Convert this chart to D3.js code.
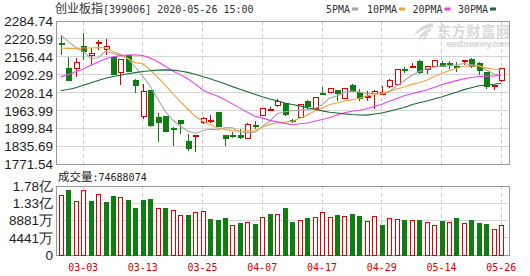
<!DOCTYPE html>
<html>
<head>
<meta charset="utf-8">
<script src="https://cdn.jsdelivr.net/npm/d3@7"></script>
<style>
  html, body { margin: 0; padding: 0; background: #fff; }
  svg { display: block; }
</style>
</head>
<body>
<div id="chart"></div>
<script>
// ChiNext (创业板指) daily k-line, 2020-02-27 .. 2020-05-26

const dates = ['02-27','02-28','03-02','03-03','03-04','03-05','03-06','03-09','03-10','03-11',
  '03-12','03-13','03-16','03-17','03-18','03-19','03-20','03-23','03-24','03-25',
  '03-26','03-27','03-30','03-31','04-01','04-02','04-03','04-07','04-08','04-09',
  '04-10','04-13','04-14','04-15','04-16','04-17','04-20','04-21','04-22','04-23',
  '04-24','04-27','04-28','04-29','04-30','05-06','05-07','05-08','05-11','05-12',
  '05-13','05-14','05-15','05-18','05-19','05-20','05-21','05-22','05-25','05-26'];

const open = [2204.4, 2113.4, 2113.4, 2193.7, 2163.0, 2206.8, 2181.9, 2155.9, 2099.2, 2160.6,
  2073.2, 1943.2, 2036.5, 1939.6, 1942.0, 1900.6, 1927.8, 1854.5, 1875.5, 1921.9,
  1929.5, 1957.3, 1877.0, 1875.2, 1875.8, 1866.3, 1911.5, 1945.5, 1968.5, 1983.3,
  1989.3, 1930.5, 1939.6, 1995.2, 1971.5, 2026.5, 2030.6, 2036.5, 2008.2, 2054.3,
  2028.3, 2015.5, 2025.9, 2021.2, 2049.5, 2057.8, 2112.0, 2121.5, 2138.2, 2111.0,
  2122.8, 2132.3, 2132.0, 2121.5, 2143.5, 2146.5, 2131.1, 2099.2, 2051.5, 2073.2];

const close = [2203.5, 2073.2, 2134.6, 2176.0, 2170.1, 2208.0, 2193.7, 2093.3, 2148.8, 2105.1,
  2055.4, 2031.8, 1912.4, 1920.7, 1888.8, 1899.5, 1919.5, 1827.3, 1877.0, 1937.2,
  1930.2, 1907.7, 1865.1, 1874.0, 1867.5, 1916.0, 1910.0, 1972.7, 1969.5, 1996.3,
  1951.4, 1929.0, 1984.5, 1978.6, 2010.5, 2025.9, 2042.4, 2025.9, 2042.4, 2034.2,
  2008.2, 2016.5, 2031.8, 2030.6, 2073.2, 2111.0, 2110.0, 2122.8, 2101.5, 2122.8,
  2144.1, 2122.8, 2131.0, 2120.3, 2144.3, 2122.8, 2108.6, 2051.9, 2052.5, 2113.4];

const high = [2235.1, 2155.9, 2152.4, 2241.0, 2187.8, 2217.4, 2220.9, 2157.0, 2149.5, 2162.0,
  2077.9, 2057.8, 2037.5, 1957.3, 1943.0, 1904.1, 1930.2, 1880.5, 1878.0, 1942.0,
  1949.1, 1958.0, 1877.5, 1888.8, 1898.2, 1919.5, 1927.8, 1973.5, 1977.4, 2004.6,
  1990.0, 1934.0, 1985.5, 2002.3, 2011.5, 2048.4, 2043.0, 2037.0, 2043.0, 2057.8,
  2040.1, 2034.2, 2037.7, 2051.9, 2077.9, 2114.5, 2119.3, 2134.6, 2144.1, 2123.5,
  2145.0, 2140.5, 2140.5, 2137.0, 2144.5, 2152.4, 2137.0, 2101.5, 2053.0, 2116.9];

const low = [2164.2, 2069.6, 2085.0, 2144.1, 2128.7, 2181.9, 2164.2, 2092.0, 2055.4, 2104.0,
  2028.3, 1933.7, 1904.1, 1851.0, 1887.0, 1839.1, 1880.5, 1821.4, 1817.9, 1916.0,
  1918.3, 1907.0, 1836.8, 1865.1, 1862.8, 1862.8, 1898.2, 1944.5, 1962.1, 1978.6,
  1945.5, 1920.0, 1938.5, 1971.5, 1970.5, 2021.2, 2025.9, 1998.7, 2007.0, 2031.8,
  1998.7, 1998.7, 1969.2, 2018.8, 2046.0, 2055.4, 2099.2, 2116.9, 2096.8, 2096.8,
  2122.0, 2120.5, 2114.5, 2101.5, 2128.7, 2116.9, 2093.3, 2040.1, 2037.7, 2066.1];

// close of the session before 02-27 (sets the colour of the first volume bar)
const prevClose = 2186.0;

const volume = [152800000, 164900000, 136600000, 164900000, 136600000, 154600000, 134000000, 149500000, 146900000, 140000000,
  118500000, 140000000, 142500000, 118500000, 118500000, 113400000, 100500000, 101300000, 108200000, 110800000,
  90200000, 87600000, 92800000, 74700000, 80700000, 82500000, 78100000, 95400000, 103900000, 103900000,
  119300000, 83200000, 87600000, 92800000, 95400000, 108200000, 95400000, 101300000, 97900000, 103900000,
  97900000, 85800000, 97900000, 75500000, 92800000, 90200000, 87600000, 87600000, 87600000, 83200000,
  75500000, 85800000, 83200000, 92800000, 80700000, 87600000, 80700000, 78100000, 64400000, 74688074];

const ma5 = [2235, 2212, 2190, 2176, 2151.5, 2152.4, 2176.5, 2168.2, 2162.8, 2149.8,
  2119.3, 2086.9, 2050.7, 2005.1, 1961.8, 1930.6, 1908.2, 1891.2, 1882.4, 1892.1,
  1898.2, 1895.9, 1903.4, 1902.8, 1888.9, 1886.1, 1886.5, 1908.0, 1927.1, 1952.9,
  1960.0, 1963.8, 1966.1, 1968.0, 1970.8, 1985.7, 2008.4, 2016.7, 2029.4, 2034.2,
  2030.6, 2025.4, 2026.6, 2024.3, 2032.1, 2052.6, 2071.3, 2089.5, 2103.7, 2113.6,
  2120.2, 2122.8, 2124.4, 2128.2, 2132.5, 2128.2, 2125.4, 2109.6, 2096.0, 2089.8];

const ma10 = [2188, 2187, 2187, 2188, 2188, 2190, 2189, 2175, 2166, 2150.6,
  2135.8, 2131.7, 2109.5, 2083.9, 2055.8, 2025.0, 1997.5, 1970.9, 1943.8, 1927.0,
  1914.4, 1902.0, 1897.3, 1892.6, 1890.5, 1892.2, 1891.2, 1905.7, 1915.0, 1920.9,
  1923.0, 1925.2, 1937.1, 1947.6, 1961.9, 1972.8, 1986.1, 1991.4, 1998.7, 2002.5,
  2008.2, 2016.9, 2021.6, 2026.8, 2033.1, 2041.6, 2048.4, 2058.1, 2064.0, 2072.8,
  2086.4, 2097.1, 2107.0, 2116.0, 2123.1, 2124.2, 2124.1, 2117.0, 2112.1, 2111.2];

const ma20 = [2085, 2093, 2103, 2113, 2126, 2138, 2150, 2157, 2161, 2163,
  2164, 2161, 2152, 2139, 2123, 2106, 2093, 2078, 2060, 2038.8,
  2025.1, 2016.9, 2003.4, 1988.3, 1973.2, 1958.6, 1944.4, 1938.3, 1929.4, 1923.9,
  1918.7, 1913.6, 1917.2, 1920.1, 1926.2, 1932.5, 1938.6, 1948.6, 1956.8, 1961.7,
  1965.6, 1971.0, 1979.4, 1987.2, 1997.5, 2007.2, 2017.2, 2024.7, 2031.3, 2037.7,
  2047.3, 2057.0, 2064.3, 2071.4, 2078.1, 2082.9, 2086.2, 2087.5, 2088.0, 2092.0];

const ma30 = [2036, 2040, 2046, 2055, 2063, 2072, 2080, 2086, 2091, 2096,
  2100, 2104, 2107, 2109, 2110, 2109, 2106, 2101, 2094, 2086,
  2078, 2069, 2060, 2050, 2041, 2032, 2023, 2014, 2006, 1999.5,
  1991.1, 1986.3, 1981.3, 1974.7, 1969.4, 1963.3, 1958.3, 1956.0, 1952.5, 1950.1,
  1948.5, 1948.0, 1952.0, 1955.7, 1961.8, 1968.9, 1975.2, 1985.1, 1992.6, 1998.7,
  2005.9, 2013.0, 2021.9, 2030.1, 2039.3, 2046.2, 2052.9, 2055.5, 2058.3, 2062.2];

const priceTicks = [2284.74, 2220.59, 2156.44, 2092.29, 2028.14, 1963.99, 1899.84, 1835.69, 1771.54];
const volTicks = [0, 44410000, 88810000, 133230000, 177640000];
const volTickLabels = ['0', '4441万', '8881万', '1.33亿', '1.78亿'];
const dateTicks = ['03-03', '03-13', '03-25', '04-07', '04-17', '04-29', '05-14', '05-26'];

const maNames = ['5PMA', '10PMA', '20PMA', '30PMA'];
const maColors = ['#a6a6a6', '#f2a33a', '#e846e8', '#1b6b3a'];
const maSeries = [ma5, ma10, ma20, ma30];

const W = 530, H = 276;
const left = 56, right = 509.5;
const pTop = 21, pBottom = 164.5;
const vTop = 186, vBottom = 255;
const red = '#e10000', green = '#0f7d0f', gridCol = '#d6d6d6', frameCol = '#9a9a9a';
const latin = "'DejaVu Sans Mono', monospace";
const cjk = "'Noto Sans CJK SC', sans-serif";

const svg = d3.select('#chart').append('svg')
  .attr('width', W)
  .attr('height', H);

svg.append('rect').attr('width', W).attr('height', H).attr('fill', '#fff');

const x = d3.scaleBand().domain(dates).range([57, 505]);
const cx = d => x(d) + x.bandwidth() / 2;
const y = d3.scaleLinear().domain([1771.54, 2284.74]).range([pBottom, pTop]);
const yv = d3.scaleLinear().domain([0, 177640000]).range([vBottom, vTop]);

// title + legend
const title = svg.append('text').attr('x', 55).attr('y', 13).attr('fill', '#333');
title.append('tspan').attr('font-family', cjk).attr('font-size', 12).text('创业板指');
title.append('tspan').attr('font-family', latin).attr('font-size', 10).text('[399006] 2020-05-26 15:00');

const legendX = [326, 367, 412.5, 458];
maNames.forEach((n, k) => {
  svg.append('text')
    .attr('x', legendX[k]).attr('y', 12.5)
    .attr('font-family', latin).attr('font-size', 10).attr('fill', '#333')
    .text(n);
  svg.append('rect')
    .attr('x', legendX[k] + n.length * 6 + 2).attr('y', 7.5)
    .attr('width', 6).attr('height', 3)
    .attr('fill', maColors[k]);
});

// watermark
const wm = svg.append('g').attr('fill', '#dadada');
wm.append('path').attr('d', 'M433,23 C424,24 416,30 414,36 C419,31 426,28 433,27 Z');
wm.append('path').attr('d', 'M431,28 C423,31 418,36 419,41 C422,36 426,33 431,31 Z');
wm.append('path').attr('d', 'M428,33 C424,35 422,38 424,41 C425,38 427,36 428,35 Z');
wm.append('text').attr('x', 437).attr('y', 35.5)
  .attr('font-family', cjk).attr('font-size', 14).attr('font-weight', 'bold')
  .attr('textLength', 73).text('东方财富网');
wm.append('text').attr('x', 446).attr('y', 47)
  .attr('font-family', "'DejaVu Sans', sans-serif").attr('font-size', 8.5).attr('font-weight', 'bold')
  .attr('textLength', 64).text('eastmoney.com');

// grids
function panelGrid(ticks, scale, top, bottom) {
  const g = svg.append('g').attr('shape-rendering', 'crispEdges');
  g.selectAll('.h').data(ticks).enter().append('line')
    .attr('x1', left).attr('x2', right)
    .attr('y1', d => scale(d)).attr('y2', d => scale(d))
    .attr('stroke', gridCol);
  g.selectAll('.v').data(dateTicks).enter().append('line')
    .attr('x1', d => cx(d)).attr('x2', d => cx(d))
    .attr('y1', top).attr('y2', bottom)
    .attr('stroke', '#cdcdcd').attr('stroke-dasharray', '4,3');
  g.append('rect')
    .attr('x', left).attr('y', top)
    .attr('width', right - left).attr('height', bottom - top)
    .attr('fill', 'none').attr('stroke', frameCol);
}
panelGrid(priceTicks, y, pTop, pBottom);
panelGrid(volTicks, yv, vTop, vBottom);

// axes
const axisText = g => g.selectAll('text')
  .attr('font-family', "'Liberation Sans', Arial, sans-serif")
  .attr('font-size', 13.5).attr('fill', '#222');

svg.append('g')
  .attr('transform', `translate(${left},0)`)
  .call(d3.axisLeft(y).tickValues(priceTicks).tickSize(0).tickPadding(3).tickFormat(d3.format('.2f')))
  .call(g => g.select('.domain').remove())
  .call(axisText);

svg.append('g')
  .attr('transform', `translate(${left},0)`)
  .call(d3.axisLeft(yv).tickValues(volTicks).tickSize(0).tickPadding(3)
    .tickFormat((d, i) => volTickLabels[i]))
  .call(g => g.select('.domain').remove())
  .call(axisText);

svg.append('g')
  .attr('transform', `translate(0,${vBottom})`)
  .call(d3.axisBottom(x).tickValues(dateTicks).tickSize(0).tickPadding(8))
  .call(g => g.select('.domain').remove())
  .call(g => g.selectAll('text')
    .attr('font-family', latin).attr('font-size', 11)
    .attr('textLength', 30).attr('lengthAdjust', 'spacingAndGlyphs')
    .attr('fill', '#d40000'));

// volume caption
const vcap = svg.append('text').attr('x', 58).attr('y', 181).attr('fill', '#222');
vcap.append('tspan').attr('font-family', cjk).attr('font-size', 11.5).text('成交量');
vcap.append('tspan').attr('font-family', latin).attr('font-size', 10)
  .text(':' + volume[volume.length - 1]);

// candles
const bodyW = 5;
const cg = svg.append('g').attr('shape-rendering', 'crispEdges');
dates.forEach((d, i) => {
  const xc = Math.round(cx(d)) + 0.5;
  const isUp = close[i] >= open[i];
  const col = isUp ? red : green;
  const yTop = y(Math.max(open[i], close[i]));
  const yBot = y(Math.min(open[i], close[i]));
  const h = Math.max(1, yBot - yTop);
  cg.append('line').attr('x1', xc).attr('x2', xc)
    .attr('y1', y(high[i])).attr('y2', yTop).attr('stroke', col);
  cg.append('line').attr('x1', xc).attr('x2', xc)
    .attr('y1', yTop + h).attr('y2', y(low[i])).attr('stroke', col);
  cg.append('rect')
    .attr('x', xc - bodyW / 2).attr('y', yTop)
    .attr('width', bodyW).attr('height', h)
    .attr('fill', isUp ? '#fff' : green)
    .attr('stroke', col);
});

// moving averages
const line = d3.line().x((v, i) => cx(dates[i])).y(v => y(v));
maSeries.forEach((s, k) => {
  svg.append('path')
    .datum(s)
    .attr('d', line)
    .attr('fill', 'none')
    .attr('stroke', maColors[k])
    .attr('stroke-width', 1.1);
});

// volume bars, coloured by close vs previous close
const vg = svg.append('g').attr('shape-rendering', 'crispEdges');
dates.forEach((d, i) => {
  const rise = close[i] >= (i === 0 ? prevClose : close[i - 1]);
  const xc = Math.round(cx(d));
  vg.append('rect')
    .attr('x', xc - 2 + 0.5).attr('y', yv(volume[i]))
    .attr('width', 4).attr('height', vBottom - yv(volume[i]))
    .attr('fill', rise ? '#fff' : green)
    .attr('stroke', rise ? red : green);
});
</script>
</body>
</html>
